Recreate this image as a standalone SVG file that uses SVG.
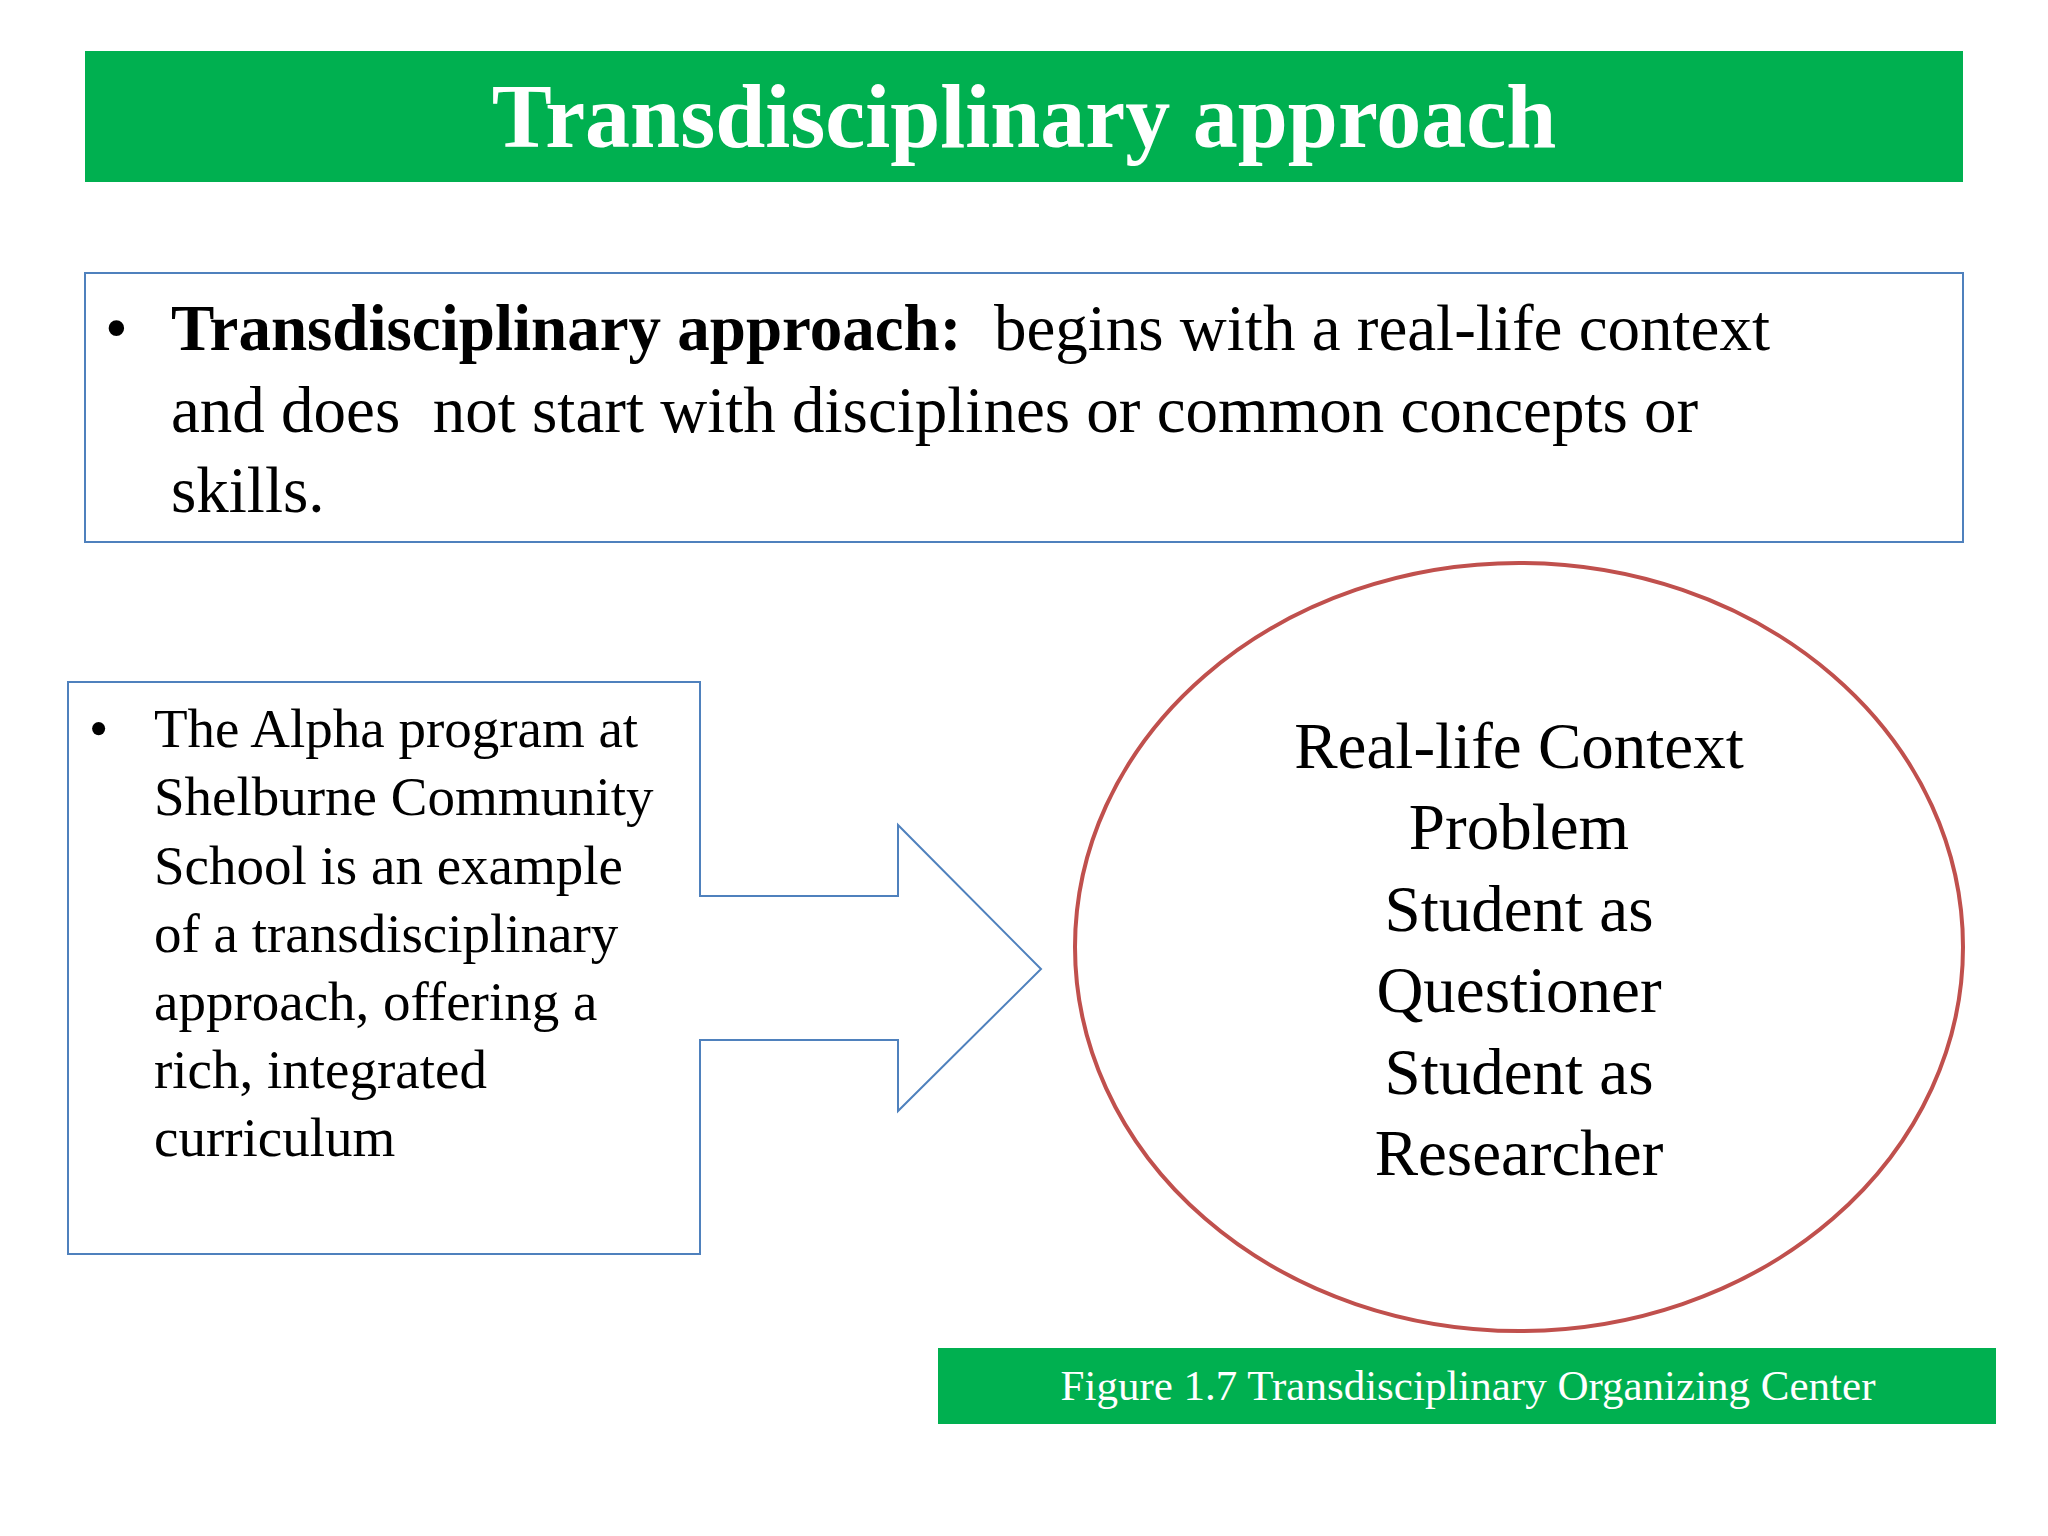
<svg xmlns="http://www.w3.org/2000/svg" width="2048" height="1536" viewBox="0 0 2048 1536">
<style>
text{font-family:"Liberation Serif","Times New Roman",serif;fill:#000}
.box{fill:#fff;stroke:#4F81BD;stroke-width:2}
.green{fill:#00B050}
</style>
<rect width="2048" height="1536" fill="#fff"/>
<g id="title"><rect class="green" x="85" y="51" width="1878" height="131"/>
<text x="1024" y="147" text-anchor="middle" font-size="90" font-weight="bold" style="fill:#fff">Transdisciplinary approach</text></g>
<g id="definition"><rect class="box" x="85" y="273" width="1878" height="269"/>
<text font-size="65"><tspan x="105" y="350">•</tspan><tspan x="171" y="350" font-weight="bold">Transdisciplinary approach:</tspan><tspan xml:space="preserve">  begins with a real-life context</tspan>
<tspan x="171" y="432" xml:space="preserve">and does  not start with disciplines or common concepts or</tspan>
<tspan x="171" y="512">skills.</tspan></text></g>
<g id="example"><rect class="box" x="68" y="682" width="632" height="572"/>
<text font-size="55"><tspan x="89" y="747">•</tspan><tspan x="154" y="747">The Alpha program at</tspan><tspan x="154" y="815">Shelburne Community</tspan><tspan x="154" y="884">School is an example</tspan><tspan x="154" y="952">of a transdisciplinary</tspan><tspan x="154" y="1020">approach, offering a</tspan><tspan x="154" y="1088">rich, integrated</tspan><tspan x="154" y="1156">curriculum</tspan></text></g>
<g id="connectors"><polygon class="box" points="700,896 898,896 898,825 1041,969 898,1111 898,1040 700,1040"/><line x1="700" y1="897" x2="700" y2="1039" stroke="#fff" stroke-width="3"/></g>
<g id="center"><ellipse cx="1519" cy="947" rx="444" ry="384" fill="#fff" stroke="#C0504D" stroke-width="4"/>
<text font-size="65" text-anchor="middle"><tspan x="1519" y="768">Real-life Context</tspan><tspan x="1519" y="849">Problem</tspan><tspan x="1519" y="931">Student as</tspan><tspan x="1519" y="1012">Questioner</tspan><tspan x="1519" y="1094">Student as</tspan><tspan x="1519" y="1175">Researcher</tspan></text></g>
<g id="caption"><rect class="green" x="938" y="1348" width="1058" height="76"/>
<text x="1468" y="1400" text-anchor="middle" font-size="43" style="fill:#fff">Figure 1.7 Transdisciplinary Organizing Center</text></g>
</svg>
